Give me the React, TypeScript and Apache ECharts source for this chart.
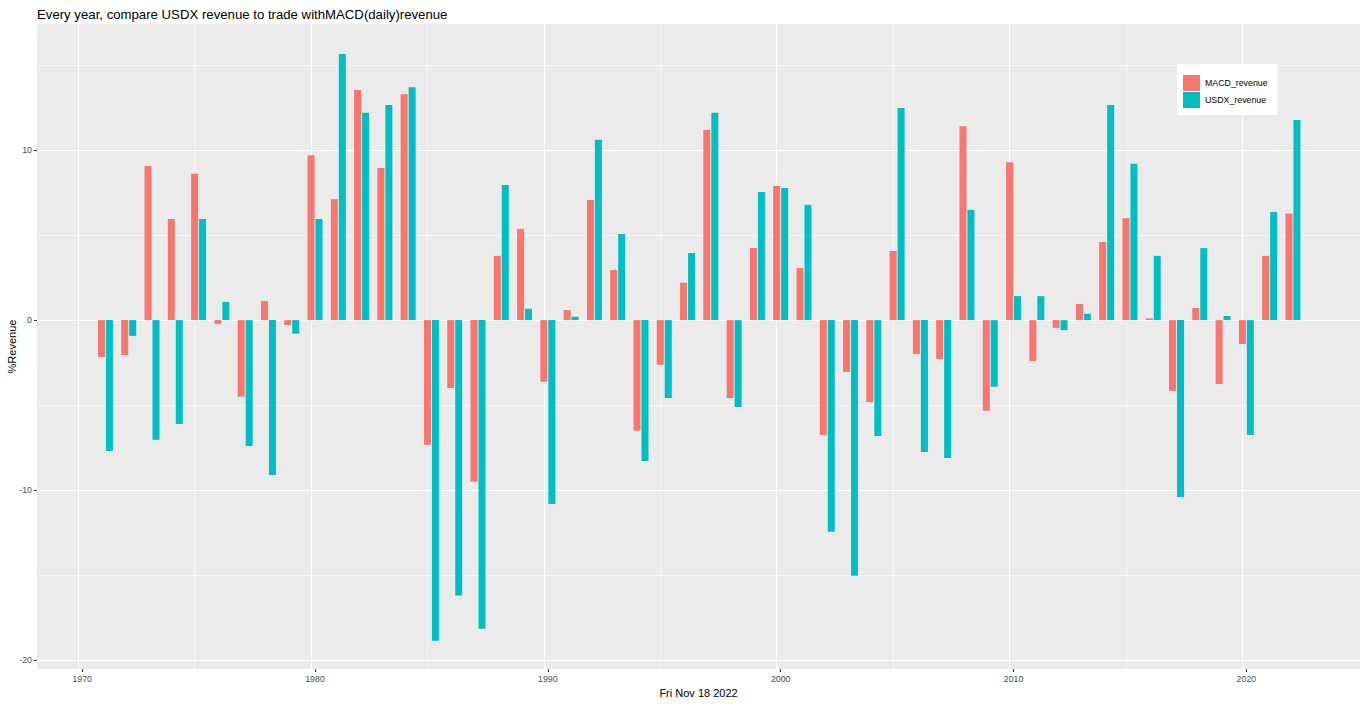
import React, { useEffect, useRef } from "react";
import * as echarts from "echarts";

const years = [
  1971, 1972, 1973, 1974, 1975, 1976, 1977, 1978, 1979, 1980,
  1981, 1982, 1983, 1984, 1985, 1986, 1987, 1988, 1989, 1990,
  1991, 1992, 1993, 1994, 1995, 1996, 1997, 1998, 1999, 2000,
  2001, 2002, 2003, 2004, 2005, 2006, 2007, 2008, 2009, 2010,
  2011, 2012, 2013, 2014, 2015, 2016, 2017, 2018, 2019, 2020,
  2021, 2022,
];

const macdRevenue = [
  -2.17, -2.05, 9.07, 5.95, 8.61, -0.22, -4.51, 1.12, -0.29, 9.71,
  7.12, 13.54, 8.95, 13.29, -7.34, -4.0, -9.51, 3.78, 5.37, -3.63,
  0.59, 7.07, 2.95, -6.51, -2.63, 2.2, 11.2, -4.59, 4.24, 7.9,
  3.07, -6.76, -3.05, -4.83, 4.07, -2.0, -2.29, 11.41, -5.34, 9.29,
  -2.41, -0.46, 0.95, 4.59, 6.0, 0.1, -4.17, 0.71, -3.76, -1.41,
  3.78, 6.27,
];

const usdxRevenue = [
  -7.71, -0.93, -7.05, -6.12, 5.95, 1.07, -7.41, -9.12, -0.8, 5.95,
  15.66, 12.2, 12.66, 13.71, -18.88, -16.22, -18.17, 7.95, 0.66, -10.83,
  0.2, 10.61, 5.07, -8.29, -4.59, 3.95, 12.2, -5.12, 7.54, 7.78,
  6.78, -12.46, -15.05, -6.83, 12.49, -7.76, -8.12, 6.49, -3.93, 1.41,
  1.41, -0.59, 0.37, 12.66, 9.2, 3.78, -10.41, 4.24, 0.24, -6.76,
  6.37, 11.78,
];

const xMajorTicks = [1970, 1980, 1990, 2000, 2010, 2020];
const xMinorTicks = [1975, 1985, 1995, 2005, 2015];
const yMajorTicks = [-20, -10, 0, 10];
const yMinorTicks = [-15, -5, 5, 15];

const seriesNames = ["MACD_revenue", "USDX_revenue"];
const titleText = "Every year, compare USDX revenue to trade withMACD(daily)revenue";
const xTitle = "Fri Nov 18 2022";
const yTitle = "%Revenue";

export default function App() {
  const ref = useRef<HTMLDivElement>(null);

  useEffect(() => {
    if (!ref.current) return;
    const chart = echarts.init(ref.current, null, { renderer: "svg" });

    const major = { color: "#FFFFFF", width: 1.1, type: "solid" as const };
    const minor = { color: "#FFFFFF", width: 0.55, type: "solid" as const };
    const gridLines = [
      ...xMajorTicks.map((v) => ({ xAxis: v, lineStyle: major })),
      ...xMinorTicks.map((v) => ({ xAxis: v, lineStyle: minor })),
      ...yMajorTicks.map((v) => ({ yAxis: v, lineStyle: major })),
      ...yMinorTicks.map((v) => ({ yAxis: v, lineStyle: minor })),
    ];

    chart.setOption({
      animation: false,
      backgroundColor: "#FFFFFF",
      title: {
        text: titleText,
        left: 32,
        top: 3,
        textStyle: {
          fontFamily: "Liberation Sans",
          fontSize: 13.2,
          fontWeight: "normal",
          color: "#000000",
        },
      },
      legend: {
        orient: "vertical",
        left: 1177,
        top: 64,
        padding: [11, 10, 7, 6],
        backgroundColor: "#FFFFFF",
        itemWidth: 17,
        itemHeight: 16,
        itemGap: 1,
        icon: "rect",
        data: seriesNames,
        textStyle: {
          fontFamily: "Liberation Sans",
          fontSize: 8.8,
          color: "#000000",
          padding: [0, 0, 0, 0],
        },
      },
      grid: {
        left: 37,
        right: 6,
        top: 24,
        bottom: 36,
        show: true,
        backgroundColor: "#EBEBEB",
        borderWidth: 0,
        containLabel: false,
        outerBoundsMode: "none",
      },
      xAxis: {
        type: "value",
        min: 1968.06,
        max: 2024.88,
        name: xTitle,
        nameLocation: "middle",
        nameGap: 18,
        nameMoveOverlap: false,
        nameTextStyle: {
          fontFamily: "Liberation Sans",
          fontSize: 11,
          color: "#000000",
        },
        axisLine: { show: false, onZero: false },
        axisTick: {
          show: true,
          length: 3,
          customValues: xMajorTicks,
          lineStyle: { color: "#333333", width: 1 },
        },
        axisLabel: {
          customValues: xMajorTicks,
          margin: 5,
          formatter: (v: number) => String(v),
          fontFamily: "Liberation Sans",
          fontSize: 8.8,
          color: "#4D4D4D",
        },
        splitLine: { show: false },
      },
      yAxis: {
        type: "value",
        min: -20.54,
        max: 17.43,
        name: yTitle,
        nameLocation: "middle",
        nameGap: 20,
        nameMoveOverlap: false,
        nameRotate: 90,
        nameTextStyle: {
          fontFamily: "Liberation Sans",
          fontSize: 11,
          color: "#000000",
        },
        axisLine: { show: false, onZero: false },
        axisTick: {
          show: true,
          length: 3,
          customValues: yMajorTicks,
          lineStyle: { color: "#333333", width: 1 },
        },
        axisLabel: {
          customValues: yMajorTicks,
          margin: 5,
          fontFamily: "Liberation Sans",
          fontSize: 8.8,
          color: "#4D4D4D",
        },
        splitLine: { show: false },
      },
      series: [
        {
          name: seriesNames[0],
          type: "bar",
          barWidth: 7,
          barGap: "14%",
          itemStyle: { color: "#F8766D" },
          data: years.map((y, i) => [y, macdRevenue[i]]),
          z: 2,
          markLine: {
            silent: true,
            symbol: "none",
            z: 1,
            label: { show: false },
            emphasis: { disabled: true },
            data: gridLines,
          },
        },
        {
          name: seriesNames[1],
          type: "bar",
          barWidth: 7,
          barGap: "14%",
          itemStyle: { color: "#00BFC4" },
          data: years.map((y, i) => [y, usdxRevenue[i]]),
          z: 2,
        },
      ],
    });

    return () => chart.dispose();
  }, []);

  return (
    <div
      ref={ref}
      style={{ position: "fixed", left: 0, top: 0, width: 1366, height: 705 }}
    />
  );
}
